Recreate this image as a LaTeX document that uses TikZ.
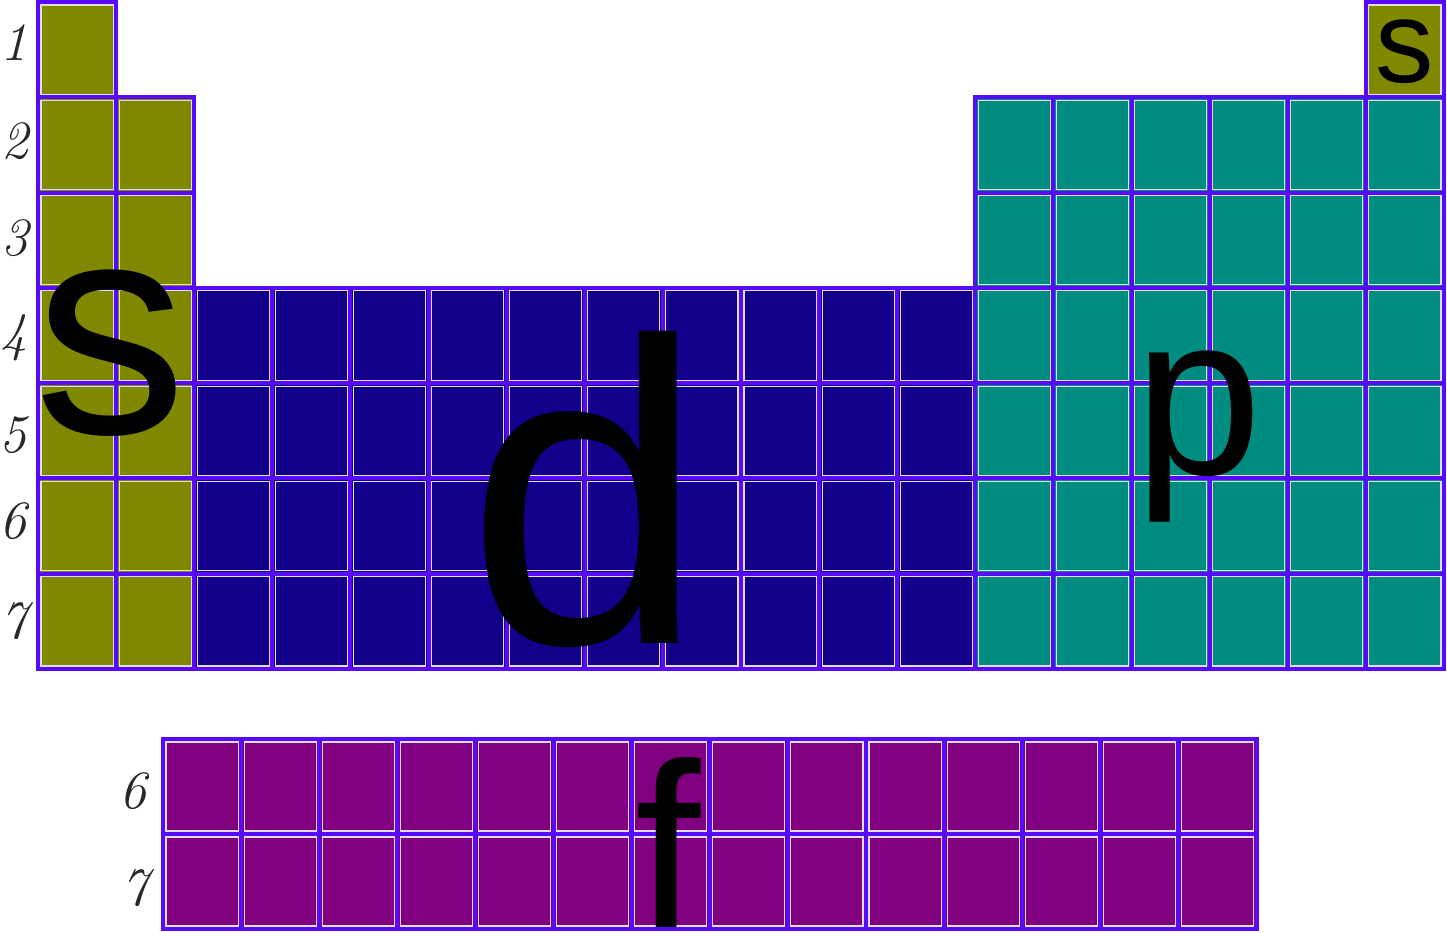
\documentclass[tikz,border=0pt]{standalone}
\usepackage{fontspec}
\newfontfamily\arialfont{Liberation Sans}
\definecolor{gridc}{RGB}{88,10,255}
\definecolor{sblk}{RGB}{128,136,0}
\definecolor{dblk}{RGB}{18,0,138}
\definecolor{pblk}{RGB}{0,140,128}
\definecolor{fblk}{RGB}{128,0,128}
\definecolor{lblc}{RGB}{40,40,40}
\tikzset{
  innerline/.style={draw=white!75!gray, line width=1.2pt},
  gridline/.style={draw=gridc, line width=4pt},
  bigletter/.style={font=\arialfont\fontsize{#1}{#1}\selectfont, anchor=base, inner sep=0pt, text=black},
  rowlab/.style={font=\itshape\fontsize{54}{54}\selectfont, text=lblc, inner sep=0pt, anchor=base}
}
\def\W{78.11}
\def\H{95.29}
\def\FH{95}
\begin{document}
\begin{tikzpicture}[x=1pt,y=-1pt]
\useasboundingbox (0,0) rectangle (1447,932);
% main table cells: col, row, colour
\foreach \c/\r/\col in {0/0/sblk,17/0/sblk}{
  \pgfmathsetmacro\xa{38+\c*\W}\pgfmathsetmacro\ya{2+\r*\H}
  \fill[\col] (\xa,\ya) rectangle ++(\W,\H);
  \draw[innerline] (\xa+3,\ya+3) rectangle ++(\W-6,\H-6);
}
\foreach \r in {1,...,6}{
  \foreach \c in {0,1}{
    \pgfmathsetmacro\xa{38+\c*\W}\pgfmathsetmacro\ya{2+\r*\H}
    \fill[sblk] (\xa,\ya) rectangle ++(\W,\H);
    \draw[innerline] (\xa+3,\ya+3) rectangle ++(\W-6,\H-6);
  }
  \foreach \c in {12,...,17}{
    \pgfmathsetmacro\xa{38+\c*\W}\pgfmathsetmacro\ya{2+\r*\H}
    \fill[pblk] (\xa,\ya) rectangle ++(\W,\H);
    \draw[innerline] (\xa+3,\ya+3) rectangle ++(\W-6,\H-6);
  }
}
\foreach \r in {3,...,6}{
  \foreach \c in {2,...,11}{
    \pgfmathsetmacro\xa{38+\c*\W}\pgfmathsetmacro\ya{2+\r*\H}
    \fill[dblk] (\xa,\ya) rectangle ++(\W,\H);
    \draw[innerline] (\xa+3,\ya+3) rectangle ++(\W-6,\H-6);
  }
}
% f block
\foreach \r in {0,1}{
  \foreach \c in {0,...,13}{
    \pgfmathsetmacro\xa{163+\c*\W}\pgfmathsetmacro\ya{739+\r*\FH}
    \fill[fblk] (\xa,\ya) rectangle ++(\W,\FH);
    \draw[innerline] (\xa+3,\ya+3) rectangle ++(\W-6,\FH-6);
  }
}
% grid lines
\foreach \c/\r in {0/0,17/0}{
  \pgfmathsetmacro\xa{38+\c*\W}\pgfmathsetmacro\ya{2+\r*\H}
  \draw[gridline] (\xa,\ya) rectangle ++(\W,\H);
}
\foreach \r in {1,...,6}{
  \foreach \c in {0,1,12,13,14,15,16,17}{
    \pgfmathsetmacro\xa{38+\c*\W}\pgfmathsetmacro\ya{2+\r*\H}
    \draw[gridline] (\xa,\ya) rectangle ++(\W,\H);
  }
}
\foreach \r in {3,...,6}{
  \foreach \c in {2,...,11}{
    \pgfmathsetmacro\xa{38+\c*\W}\pgfmathsetmacro\ya{2+\r*\H}
    \draw[gridline] (\xa,\ya) rectangle ++(\W,\H);
  }
}
\foreach \r in {0,1}{
  \foreach \c in {0,...,13}{
    \pgfmathsetmacro\xa{163+\c*\W}\pgfmathsetmacro\ya{739+\r*\FH}
    \draw[gridline] (\xa,\ya) rectangle ++(\W,\FH);
  }
}
% big block letters
\node[bigletter=305] (sbig) at (111,433) {s};
\node[bigletter=117] (shel) at (1405,82) {s};
\node[bigletter=431] (dlet) at (586,643) {d};
\node[bigletter=230] (plet) at (1198,474) {p};
\node[bigletter=235] (flet) at (668,927) {f};
% row labels
\node[rowlab] (r1) at (14,60) {1};
\node[rowlab] (r2) at (15,158) {2};
\node[rowlab] (r3) at (15,255) {3};
\node[rowlab] (r4) at (14,350) {4};
\node[rowlab] (r5) at (13,452) {5};
\node[rowlab] (r6) at (13,538) {6};
\node[rowlab] (r7) at (14,638) {7};
\node[rowlab] (f6) at (133,808) {6};
\node[rowlab] (f7) at (135,905) {7};
\end{tikzpicture}
\end{document}
